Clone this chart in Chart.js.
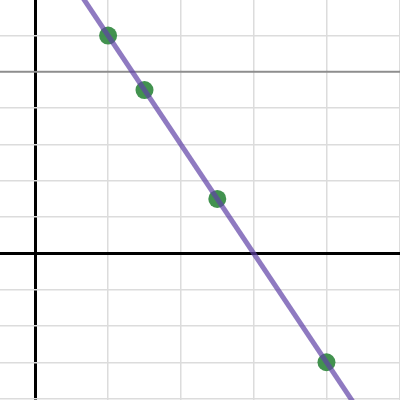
<!DOCTYPE html>
<html>
<head>
<meta charset="utf-8">
<script src="https://cdn.jsdelivr.net/npm/chart.js@4"></script>
<style>
  html, body { margin: 0; padding: 0; background: #fff; }
  #wrap { width: 400px; height: 400px; }
</style>
</head>
<body>
<div id="wrap"><canvas id="graph"></canvas></div>
<script>
// Plotted points
const pointX = [1, 1.5, 2.5, 4];
const pointY = [6, 4.5, 1.5, -3];

// Fitted line y = -3x + 9, end points outside the view
const fitX = [0.5, 4.5];
const fitY = [7.5, -4.5];

// Horizontal gray line y = 5
const flatX = [-1, 6];
const flatY = [5, 5];

// Visible window
const xRange = [-0.485, 5.01];
const yRange = [-4.04, 6.98];

function toPoints(xs, ys) {
    return xs.map((x, i) => ({ x: x, y: ys[i] }));
}

// Axis lines drawn as the zero grid line
function gridColor(ctx) {
    return ctx.tick && ctx.tick.value === 0 ? '#000' : '#dcdcdc';
}
function gridWidth(ctx) {
    return ctx.tick && ctx.tick.value === 0 ? 3 : 1.5;
}

const axisOptions = (range) => ({
    type: 'linear',
    min: range[0],
    max: range[1],
    ticks: { display: false, stepSize: 1, includeBounds: false },
    grid: { color: gridColor, lineWidth: gridWidth, drawTicks: false },
    border: { display: false }
});

const ctx = document.getElementById('graph').getContext('2d');
new Chart(ctx, {
    type: 'scatter',
    data: {
        datasets: [
            {
                label: 'fit',
                data: toPoints(fitX, fitY),
                showLine: true,
                borderColor: 'rgba(96, 66, 166, 0.7)',
                borderWidth: 5,
                pointRadius: 0,
                order: 0
            },
            {
                label: 'flat',
                data: toPoints(flatX, flatY),
                showLine: true,
                borderColor: 'rgba(100, 100, 100, 0.65)',
                borderWidth: 2,
                pointRadius: 0,
                order: 2
            },
            {
                label: 'points',
                data: toPoints(pointX, pointY),
                backgroundColor: 'rgba(56, 140, 70, 0.95)',
                borderWidth: 0,
                pointRadius: 9,
                order: 1
            }
        ]
    },
    options: {
        responsive: true,
        maintainAspectRatio: false,
        animation: false,
        layout: { padding: 0, autoPadding: false },
        plugins: {
            legend: { display: false },
            tooltip: { enabled: false }
        },
        scales: {
            x: axisOptions(xRange),
            y: axisOptions(yRange)
        }
    }
});
</script>
</body>
</html>
